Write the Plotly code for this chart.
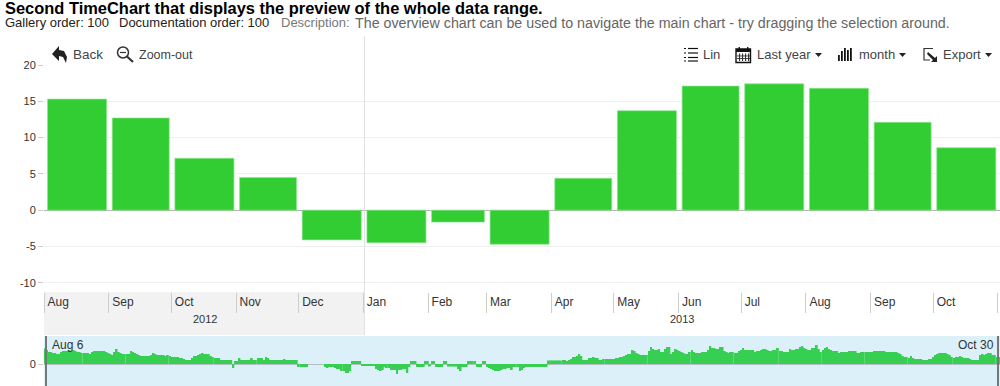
import plotly.graph_objects as go

W, H = 1000, 386

title_text = "Second TimeChart that displays the preview of the whole data range."
gallery_text = "Gallery order: 100"
doc_text = "Documentation order: 100"
desc_label = "Description:"
desc_text = "The overview chart can be used to navigate the main chart - try dragging the selection around."

month_starts = ["2012-08-01", "2012-09-01", "2012-10-01", "2012-11-01", "2012-12-01",
                "2013-01-01", "2013-02-01", "2013-03-01", "2013-04-01", "2013-05-01",
                "2013-06-01", "2013-07-01", "2013-08-01", "2013-09-01", "2013-10-01"]
month_values = [15.3, 12.7, 7.15, 4.5, -4.1, -4.5, -1.65, -4.7, 4.4, 13.7, 17.1, 17.4, 16.8, 12.1, 8.6]
month_days = [31, 30, 31, 30, 31, 31, 28, 31, 30, 31, 30, 31, 31, 30, 31]
tick_dates = month_starts + ["2013-11-01"]
tick_labels = ["Aug", "Sep", "Oct", "Nov", "Dec", "Jan", "Feb", "Mar", "Apr", "May", "Jun", "Jul", "Aug", "Sep", "Oct", ""]
y_ticks = [-10, -5, 0, 5, 10, 15, 20]
y_tick_labels = ["-10", "-5", "0", "5", "10", "15", "20"]
years = ["2012", "2013"]
year_centers = ["2012-10-17", "2013-06-02 12:00"]

preview_a = [15.5, 14, 12, 12, 11, 11, 10, 10, 12, 13,
             13, 13, 14, 13, 14, 13, 12, 12, 11, 11,
             11, 11, 10, 12, 13, 13, 13, 13, 13, 13,
             12, 11, 10, 9, 12, 15, 12, 11, 10, 10,
             10, 10, 13, 12, 11, 10, 9, 8, 8, 8,
             8, 8, 9, 11, 10, 9, 9, 9, 9, 8,
             9, 8, 7, 7, 7, 7, 6, 6, 5, 4,
             4, 4, 6, 8, 8, 9]
preview_b = [10, 11, 10, 10, 10, 8, 7, 6, 6, 6,
             4, 4, 4, 4, 4, 4, -4, 3, 3, 6,
             4, 4, 4, 4, 4, 6, 4, 4, 6, 6,
             6, 4, 7, 6, 4, 4, 4, 4, 4, 4,
             4, 5, 4, 4, 4, 4, 4, 4, -3, -3,
             -3, -3, -3, 0, 0, 0, 0, 0, 0, 0,
             0, -3, -4, -3, -3, -3, -4, -5, -5, -7,
             -7, -9, -9, -7, 3, 3]
preview_c = [3, 3, 3, -2, -2, -2, -2, -2, -2, -2,
             -5, -6, -7, -6, -3, -4, -4, -6, -6, -6,
             -10, -6, -6, -5, -5, -9, -3, 3, 3, 3,
             -3, -3, -3, -3, 3, 3, -2.5, 3, 3, -3,
             -3, -3, -3, 3, 3, -2.5, -2.5, -2.5, -2.5, -2.5,
             -5, -7, -3, -3, -3, 3, 3, 3, 3, -3,
             -3, -3, 3, 3, -3, -4, -5, -6, -7, -7,
             -7, -6, -5, -5, -4, -4]
preview_d = [-6, -3, -3, -3, -7, -6, -4, -3, -3, -3,
             -3, -3, -3, -3, -3, -3, -3, -3, 3.5, 3.5,
             3.5, 3.5, 3.5, 3.5, 3.5, 4, 4, 3, 4, 5,
             7, 7, 8, 10, 8, 4, 4, 4, 6, 6,
             7, 6, 6, 4, 4, 5, 5, 5, 5, 5,
             5, 6, 6, 7, 7, 8, 9, 10, 10, 14,
             13, 11, 10, 9, 9, 9, 9, 13, 17, 15,
             14, 14, 15, 12, 12, 15]
preview_e = [17, 17, 10, 12, 15, 14, 13, 12, 11, 10,
             10, 12, 14, 12, 11, 11, 11, 12, 12, 12,
             14, 18, 16, 16, 15, 15, 17, 17, 13, 12,
             11, 12, 12, 11, 11, 13, 14, 16, 14, 14,
             14, 14, 14, 12, 13, 13, 14, 15, 15, 14,
             13, 13, 14, 14, 16, 13, 13, 12, 12, 12,
             15, 14, 14, 15, 15, 17, 18, 16, 15, 14,
             14, 16, 16, 19, 15, 12]
preview_f = [14, 16, 17, 15, 14, 13, 13, 13, 11, 12,
             12, 12, 12, 13, 13, 13, 13, 11, 11, 12,
             12, 12, 12, 12, 12, 13, 13, 13, 13, 13,
             13, 12, 12, 12, 12, 12, 12, 11, 10, 8,
             7, 7, 6, 8, 6, 5, 5, 5, 5, 4,
             4, 4, 5, 5, 7, 9, 10, 11, 11, 11,
             11, 10, 9, 7, 6, 7, 7, 8, 7, 6,
             6, 6, 5, 4, 4, 4, 4, 9, 10, 9,
             10, 11, 11, 9, 9, 7, 7]
preview_values = preview_a + preview_b + preview_c + preview_d + preview_e + preview_f

GREEN = "#32CD32"
DAY = 86400000


def px(x):
    return x / W


def py(y):
    return 1 - y / H


def P(*pts, close=False):
    s = ""
    for i, (x, y) in enumerate(pts):
        s += ("M" if i == 0 else "L") + f"{px(x):.5f},{py(y):.5f} "
    return s + ("Z" if close else "")


def icon(path, fill="#222", line=None, width=1.5):
    return dict(type="path", xref="paper", yref="paper", path=path,
                fillcolor=fill, line=dict(color=line or "rgba(0,0,0,0)", width=width), layer="above")


def rect(x0, y0, x1, y1, **kw):
    return dict(type="rect", xref="paper", yref="paper", x0=px(x0), x1=px(x1), y0=py(y1), y1=py(y0), **kw)


fig = go.Figure()
fig.add_trace(go.Bar(
    x=month_starts, y=month_values,
    width=[(d - 2.7) * DAY for d in month_days],
    offset=[1.7 * DAY] * len(month_days),
    marker=dict(color=GREEN, line=dict(color="#8fe58f", width=0.7)),
    xaxis="x", yaxis="y", showlegend=False,
))
fig.add_trace(go.Bar(
    x=[i for i in range(len(preview_values))], y=preview_values,
    marker=dict(color="#37cf52", line=dict(width=0)),
    width=0.88, xaxis="x2", yaxis="y2", showlegend=False,
))

shapes = [
    rect(44, 292, 364.5, 335, fillcolor="#f2f2f2", line=dict(width=0), layer="below"),
    rect(44, 336, 1000, 386, fillcolor="#dcf0f9", line=dict(width=0), layer="below"),
    dict(type="line", xref="paper", yref="paper", x0=px(364.5), x1=px(364.5), y0=py(36), y1=py(335),
         line=dict(color="#e2e2e2", width=1), layer="above"),
    rect(45, 336, 47, 386, fillcolor="#777", line=dict(width=0), layer="above"),
    rect(997, 336, 999, 386, fillcolor="#777", line=dict(width=0), layer="above"),
]

# Back arrow
shapes.append(icon(P((52, 54), (59, 46), (59, 50), (64, 51), (67, 57), (66, 63), (63, 57), (59, 56), (59, 61), close=True)))
# Magnifier
shapes.append(dict(type="circle", xref="paper", yref="paper", x0=px(117.5), x1=px(128.5), y0=py(58), y1=py(47),
                   line=dict(color="#333", width=1.5), layer="above"))
shapes.append(icon(P((127, 56.5), (133, 62)), fill="rgba(0,0,0,0)", line="#333", width=2.2))
shapes.append(icon(P((120, 52.5), (126, 52.5)), fill="rgba(0,0,0,0)", line="#333", width=1.2))
# List icon
for y in (48.5, 53, 57.5, 61):
    shapes.append(rect(684, y - 0.6, 686, y + 0.6, fillcolor="#111", line=dict(width=0), layer="above"))
    shapes.append(rect(688, y - 0.6, 698, y + 0.6, fillcolor="#111", line=dict(width=0), layer="above"))
# Calendar
shapes.append(rect(736, 49, 750.5, 62.5, fillcolor="rgba(0,0,0,0)", line=dict(color="#111", width=1.4), layer="above"))
shapes.append(rect(736, 49, 750.5, 52, fillcolor="#111", line=dict(width=0), layer="above"))
for x in (738.5, 747):
    shapes.append(rect(x, 47, x + 1.4, 50, fillcolor="#111", line=dict(width=0), layer="above"))
for x in (739, 742, 745, 748):
    shapes.append(rect(x, 53.5, x + 1.1, 61, fillcolor="#333", line=dict(width=0), layer="above"))
for y in (55.5, 58):
    shapes.append(rect(737, y, 750, y + 0.9, fillcolor="#333", line=dict(width=0), layer="above"))
# Bars icon
for x, top in ((838, 55), (841, 51), (844, 48), (847, 50), (850, 48)):
    shapes.append(rect(x, top, x + 1.8, 61, fillcolor="#111", line=dict(width=0), layer="above"))
# Export icon
shapes.append(icon(P((933, 48.5), (924, 48.5), (924, 60), (930, 60)), fill="rgba(0,0,0,0)", line="#333", width=1.2))
shapes.append(icon(P((928, 52), (935, 58), (937, 56), (937, 62), (931, 62), (933, 60), (927, 54), close=True), fill="#222"))
# Carets
for x in (815, 899, 985):
    shapes.append(icon(P((x, 53), (x + 7, 53), (x + 3.5, 57), close=True), fill="#222"))


def text(s, x, y, size=12, color="#333", anchor="left", xref="paper"):
    return dict(text=s, x=px(x) if xref == "paper" else x, y=py(y), xref=xref, yref="paper",
                xanchor=anchor, yanchor="middle", showarrow=False,
                font=dict(family="Liberation Sans, Arial", size=size, color=color), align=anchor,
                borderpad=0)


annotations = [
    text(f"<b>{title_text}</b>", 4, 8, size=16.45, color="#000"),
    text(gallery_text, 4, 23, size=13, color="#222"),
    text(doc_text, 118, 23, size=13, color="#222"),
    text(desc_label, 280, 23, size=13, color="#777"),
    text(desc_text, 354, 23, size=14.27, color="#666"),
    text("Back", 72, 54.5, size=13.5, color="#444"),
    text("Zoom-out", 138, 54.5, size=12.5, color="#444"),
    text("Lin", 702, 54.5, size=13, color="#444"),
    text("Last year", 756, 54.5, size=13, color="#444"),
    text("month", 858, 54.5, size=13, color="#444"),
    text("Export", 942, 54.5, size=13, color="#444"),
    text("Aug 6", 51, 345, size=12, color="#333"),
    text("Oct 30", 995, 345, size=12, color="#333", anchor="right"),
]
for yr, c in zip(years, year_centers):
    annotations.append(text(yr, c, 319, size=11, color="#333", anchor="center", xref="x"))

fig.update_layout(
    width=W, height=H,
    margin=dict(l=0, r=0, t=0, b=0, autoexpand=False),
    paper_bgcolor="white", plot_bgcolor="rgba(0,0,0,0)",
    font=dict(family="Liberation Sans, Arial", color="#333"),
    barmode="overlay", bargap=0.1,
    shapes=shapes, annotations=annotations,
    xaxis=dict(domain=[px(44), 1], type="date", range=["2012-08-01", "2013-11-02"],
               tickmode="array", tickvals=tick_dates, ticktext=tick_labels,
               ticks="outside", ticklen=20, tickcolor="#ccc", tickwidth=1,
               showgrid=False, showline=False, zeroline=False,
               ticklabelposition="outside right", ticklabelstandoff=-1, ticklabelshift=3,
               tickfont=dict(size=12, color="#333"), anchor="y"),
    yaxis=dict(domain=[py(292), py(65)], range=[-11.28, 20], tickmode="array",
               tickvals=y_ticks, ticktext=y_tick_labels,
               ticks="outside", ticklen=5, tickcolor="#ccc", showgrid=True, gridcolor="#f0f0f0",
               zeroline=True, zerolinecolor="#b5b5b5", zerolinewidth=1, showline=False,
               tickfont=dict(size=11, color="#333"), anchor="x"),
    xaxis2=dict(domain=[px(44), 1], range=[-0.5, len(preview_values) - 0.5], visible=False, anchor="y2"),
    yaxis2=dict(domain=[0, py(336)], range=[-22, 28], tickvals=[0],
                ticks="outside", ticklen=5, tickcolor="#ccc", showgrid=False,
                zeroline=True, zerolinecolor="#b4bcc4", zerolinewidth=1, showline=False,
                tickfont=dict(size=11, color="#333"), anchor="x2"),
)

fig.write_html("out.html", config=dict(displayModeBar=False),
               post_script="document.body.style.margin='0';document.body.style.overflow='hidden';"
                           "document.documentElement.style.overflow='hidden';"
                           "var d=document.body.firstElementChild;if(d){d.style.position='absolute';d.style.left='0';d.style.top='0';}")
